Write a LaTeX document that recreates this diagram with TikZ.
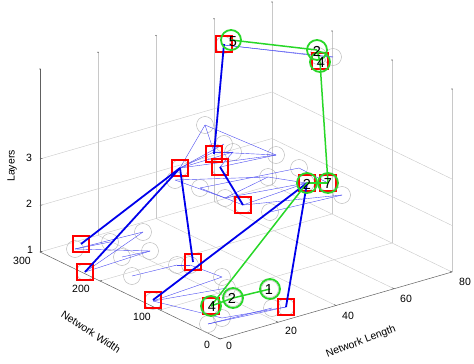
\documentclass[tikz,border=0pt]{standalone}
\usepackage{fontspec}
\setmainfont{Liberation Sans}
\usetikzlibrary{calc}
\definecolor{mgreen}{RGB}{40,215,40}
\definecolor{mblue}{RGB}{0,0,235}
\definecolor{gridc}{RGB}{200,200,200}
\definecolor{mred}{RGB}{255,0,0}
\begin{document}
\begin{tikzpicture}[x=1pt,y=-1pt,
 gridl/.style={draw=gridc,line width=0.4pt},
 axisl/.style={draw=gray!75!black,line width=0.5pt},
 gn/.style={circle,draw=gray!60,line width=0.4pt,minimum size=17pt,inner sep=0pt},
 rsq/.style={rectangle,draw=mred,line width=2.4pt,minimum size=16pt,inner sep=0pt},
 gc/.style={circle,draw=mgreen,line width=1.8pt,minimum size=20pt,inner sep=0pt},
 thinb/.style={draw=mblue!70,line width=0.4pt},
 thickb/.style={draw=mblue,line width=1.8pt},
 gline/.style={draw=mgreen,line width=1.5pt},
 ticklbl/.style={font=\fontsize{10.5}{12}\selectfont,inner sep=0pt},
 numlbl/.style={font=\fontsize{14.5}{16}\selectfont,inner sep=0pt}]
\useasboundingbox (0,0) rectangle (474,364);
% axes frame
\coordinate (A) at (220,339);
\coordinate (B) at (452,272);
\coordinate (C) at (40,252);
\coordinate (D) at (272,185);
% floor grid
\foreach \f in {0.25,0.5,0.75} \draw[gridl] ($(A)!\f!(B)$) -- ($(C)!\f!(D)$);
\foreach \f in {0.3333,0.6667} \draw[gridl] ($(A)!\f!(C)$) -- ($(B)!\f!(D)$);
% back walls
\draw[gridl] (C) -- (D) -- (B);
\foreach \h in {46.5,93} \draw[gridl] ($(C)+(0,-\h)$) -- ($(D)+(0,-\h)$) -- ($(B)+(0,-\h)$);
\foreach \f in {0.25,0.5,0.75,1} {
  \draw[gridl] ($(C)!\f!(D)$) -- ++(0,-183);
  \fill[gray!40!black] ($(C)!\f!(D)+(0,-183)$) circle (0.6);
}
\foreach \f in {0.3333,0.6667,1} {
  \draw[gridl] ($(D)!\f!(B)$) -- ++(0,-183);
  \fill[gray!40!black] ($(D)!\f!(B)+(0,-183)$) circle (0.6);
}
\draw[axisl] (C) -- (A) -- (B);
\draw[axisl] (C) -- ++(0,-183);
\fill[gray!40!black] ($(C)+(0,-183)$) circle (0.6);
% ticks
\foreach \f in {0,0.25,0.5,0.75,1} \draw[axisl] ($(A)!\f!(B)$) -- ++(-2,-1);
\foreach \f in {0,0.3333,0.6667,1} \draw[axisl] ($(A)!\f!(C)$) -- ++(2,-0.6);
\foreach \h in {0,46.5,93} \draw[axisl] ($(C)+(0,-\h)$) -- ++(2.5,-0.7);
% tick labels
\node[ticklbl] (z1) at (30,250) {1};
\node[ticklbl] (z2) at (29,204) {2};
\node[ticklbl] (z3) at (29,158) {3};
\node[ticklbl] (w300) at (22,261) {300};
\node[ticklbl] (w200) at (81,289) {200};
\node[ticklbl] (w100) at (142,317) {100};
\node[ticklbl] (w0) at (207,345) {0};
\node[ticklbl] (l0) at (229,346) {0};
\node[ticklbl] (l20) at (291,331) {20};
\node[ticklbl] (l40) at (348,316) {40};
\node[ticklbl] (l60) at (406,299) {60};
\node[ticklbl] (l80) at (465,282) {80};
\node[ticklbl,rotate=90] (zlab) at (12,166) {Layers};
\node[ticklbl,rotate=-33] (wlab) at (91,332) {Network Width};
\node[ticklbl,rotate=21] (llab) at (361,342) {Network Length};
% gray node circles
\foreach \n/\p in {t1/{(224,45)},t2/{(318,56)},t3/{(333,57)},
  m1/{(205,125)},m2/{(214,152)},m3/{(224,144)},m4/{(233,152)},m5/{(276,155)},m6/{(180,168)},m7/{(220,167)},
  n1/{(175,180)},n2/{(200,188)},n3/{(225,198)},n4/{(243,205)},n5/{(268,177)},n6/{(299,168)},n7/{(306,183)},n8/{(328,183)},n9/{(342,195)},n10/{(270,212)},
  b1/{(75,249)},b2/{(110,242)},b3/{(143,232)},b4/{(85,272)},b5/{(122,257)},b6/{(150,251)},b8/{(132,276)},b9/{(177,265)},b10/{(190,265)},b11/{(222,277)},b12/{(227,288)},b13/{(153,301)},b14/{(211,306)},b15/{(233,298)},b16/{(270,289)},b17/{(286,307)},b18/{(208,324)},b19/{(222,318)},b20/{(272,308)}}
  \node[gn] (\n) at \p {};
% thin intra-layer edges
\foreach \a/\b in {t1/t2,t1/t3,t2/t3,
  m1/m6,m1/m2,m1/m5,m6/m4,m6/m5,m6/m2,m2/m5,m7/m5,m3/m6,m7/m4,m2/m4,
  n2/n4,n2/n6,n3/n5,n4/n7,n4/n9,n5/n7,n10/n9,n3/n7,n1/n5,n1/n3,n6/n8,
  b1/b3,b1/b2,b1/b6,b4/b6,b4/b3,b5/b6,b8/b9,b9/b10,b13/b11,b13/b12,b13/b19,b18/b17,b18/b20,b19/b17,b10/b11}
  \draw[thinb] (\a.center) -- (\b.center);
% red squares
\node[rsq] (R1) at (224,44) {};
\node[rsq] (R2) at (214,154) {};
\node[rsq] (R3) at (220,167) {};
\node[rsq] (R4) at (180,168) {};
\node[rsq] (R5) at (243,205) {};
\node[rsq] (R6) at (307,183) {};
\node[rsq] (R7) at (328,183) {};
\node[rsq] (R8) at (320,61) {};
\node[rsq] (R9) at (81,244) {};
\node[rsq] (R10) at (85,272) {};
\node[rsq] (R11) at (153,300) {};
\node[rsq] (R12) at (193,262) {};
\node[rsq] (R13) at (211,306) {};
\node[rsq] (R14) at (286,307) {};
% thick inter-layer links
\foreach \a/\b in {R1/R2,R4/R9,R4/R10,R4/R12,R3/R5,R11/R6,R14/R6}
  \draw[thickb] (\a.center) -- (\b.center);
% green path
\node[gc] (G5) at (231,40) {};
\node[gc] (G2t) at (317,50) {};
\node[gc] (G4t) at (320,62) {};
\node[gc] (G2m) at (307,183) {};
\node[gc] (G7) at (328,183) {};
\node[gc] (G4b) at (211,306) {};
\node[gc] (G2b) at (233,298) {};
\node[gc] (G1) at (270,289) {};
\foreach \a/\b in {G1/G2b,G2b/G4b,G4b/G2m,G2m/G7,G7/G4t,G4t/G2t,G2t/G5}
  \draw[gline] (\a.center) -- (\b.center);
% numbers
\node[numlbl] (k5) at (233,42) {5};
\node[numlbl] (k2t) at (317,51) {2};
\node[numlbl] (k4t) at (321,63) {4};
\node[numlbl] (k2m) at (307,184) {2};
\node[numlbl] (k7) at (328,184) {7};
\node[numlbl] (k4b) at (212,307) {4};
\node[numlbl] (k2b) at (232,298) {2};
\node[numlbl] (k1) at (269,290) {1};
\end{tikzpicture}
\end{document}
